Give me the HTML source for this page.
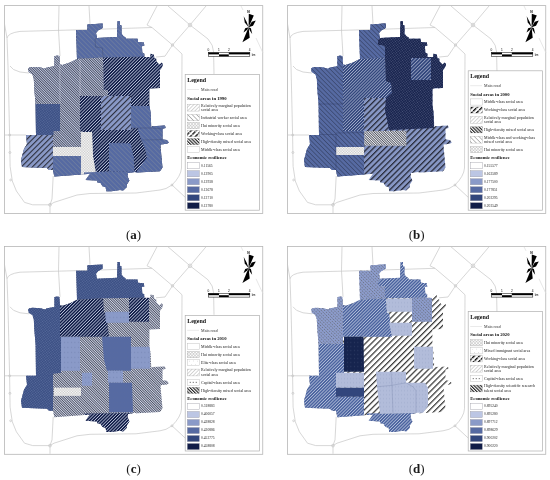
<!DOCTYPE html><html><head><meta charset="utf-8"><title>Figure</title><style>html,body{margin:0;padding:0;background:#fff}svg{display:block;filter:blur(0.35px)}</style></head><body><svg width="550" height="480" viewBox="0 0 550 480"><defs>
<pattern id="pDenseBack" width="1.73" height="4" patternUnits="userSpaceOnUse" patternTransform="rotate(-45)"><rect width="0.74" height="4" fill="#3a3d48"/></pattern>
<pattern id="pLightFwd" width="2.25" height="4" patternUnits="userSpaceOnUse" patternTransform="rotate(45)"><rect width="0.72" height="4" fill="#c0c8de"/></pattern>
<pattern id="pLightFwd2" width="2.16" height="4" patternUnits="userSpaceOnUse" patternTransform="rotate(45)"><rect width="0.7" height="4" fill="#a4aecb"/></pattern>
<pattern id="pLightFwd4" width="2.24" height="4" patternUnits="userSpaceOnUse" patternTransform="rotate(45)"><rect width="0.75" height="4" fill="#b4c0da"/></pattern>
<pattern id="pLightFwd3" width="2.5" height="4" patternUnits="userSpaceOnUse" patternTransform="rotate(45)"><rect width="0.7" height="4" fill="#a8b0cc"/></pattern>
<pattern id="pThickFwd" width="4" height="6" patternUnits="userSpaceOnUse" patternTransform="rotate(45)"><rect width="1.1" height="6" fill="#2e3140"/></pattern>
<pattern id="pThickFwdB" width="4.1" height="6" patternUnits="userSpaceOnUse" patternTransform="rotate(45)"><rect width="1.25" height="6" fill="#252836"/></pattern>
<pattern id="pThickFwdW" width="4.2" height="6" patternUnits="userSpaceOnUse" patternTransform="rotate(45)"><rect width="1.25" height="6" fill="#383838"/></pattern>
<pattern id="pThickFwd2" width="3.9" height="6" patternUnits="userSpaceOnUse" patternTransform="rotate(45)"><rect width="1.1" height="6" fill="#2a2d3a"/></pattern>
<pattern id="pThinBackL" width="3.3" height="4" patternUnits="userSpaceOnUse" patternTransform="rotate(-45)"><rect width="0.6" height="4" fill="#74819e"/></pattern>
<pattern id="pThinBackD" width="3.2" height="4" patternUnits="userSpaceOnUse" patternTransform="rotate(-45)"><rect width="0.5" height="4" fill="#2c3654"/></pattern>
<pattern id="pDashBack" width="2.25" height="2.6" patternUnits="userSpaceOnUse" patternTransform="rotate(-45)"><rect width="0.8" height="1.500" fill="#6c7284"/></pattern>
<pattern id="pDotsL" width="1.5" height="1.5" patternUnits="userSpaceOnUse" patternTransform="rotate(28)"><circle cx="0.6" cy="0.6" r="0.42" fill="#8a9cc4"/></pattern>
<pattern id="pDotsL2" width="1.5" height="1.5" patternUnits="userSpaceOnUse" patternTransform="rotate(28)"><circle cx="0.6" cy="0.6" r="0.36" fill="#aab2cc"/></pattern>
<pattern id="pDotsD" width="3.5" height="5" patternUnits="userSpaceOnUse"><rect x="1" y="1.5" width="0.9" height="0.6" fill="#5a6a98" fill-opacity="0.8"/></pattern>
<pattern id="pDotsD2" width="3" height="4" patternUnits="userSpaceOnUse"><rect x="1" y="1.5" width="1" height="0.8" fill="#9aa6c8" fill-opacity="0.8"/></pattern>
<pattern id="pDotsD3" width="3.5" height="4" patternUnits="userSpaceOnUse"><rect x="1" y="1.5" width="0.8" height="0.6" fill="#5a668a" fill-opacity="0.8"/></pattern>
<pattern id="pHui" width="1.6" height="1.6" patternUnits="userSpaceOnUse"><rect width="0.8" height="0.8" fill="#c6c6c6"/><rect x="0.8" y="0.8" width="0.8" height="0.8" fill="#c6c6c6"/></pattern>
<clipPath id="city"><path d="M87.4,24.4 L102.6,23.6 L102.6,28 L98,30.500 L96,33 L97,38 L117,37 L117.5,21.3 L120,21.3 L120,25 L121.5,25.6 L121.5,33.800 L123.500,36.300 L125.6,37.500 L125.6,38.800 L137.500,38.800 L138.1,41.900 L143.800,42.500 L144.4,45.600 L141.900,46.300 L142.300,52.500 L144.4,53.800 L144.4,56.900 L150,56.900 L150.6,53.800 L153.800,54.4 L154.4,58.1 L156.300,58.800 L156.300,61.300 L159.4,64.4 L161.900,62.500 L163.1,64.4 L161.900,67.500 L160,70 L160,88.1 L149.4,88.700 L149.4,105.6 L150.6,112.500 L151.300,127.500 L152,126.300 L165,125.6 L165.6,128.1 L162.500,128.800 L162.500,139.4 L166.900,140 L168.800,142.500 L166.900,143.800 L160.6,144.4 L160.6,146.900 L162.500,167.500 L160,171.300 L137,172.500 L135,171.900 L128.100,173.100 L127.500,176.300 L129.400,180.600 L126.900,184.400 L126.900,186.900 L123.100,190.600 L120,190 L111.300,191.300 L106.300,191.300 L105.600,186.900 L102.500,186.300 L100.600,183.100 L97.500,182.500 L96.900,180.600 L85.600,180 L90,173.800 L81.300,174.500 L54.300,176.500 L53,170 L49,170 L47,168 L22,167 L21,160 L24,149 L27,144 L26,135 L36,135 L35.6,104 L34.4,90 L33.800,78.800 L32.500,74.4 L28.800,72 L28.1,68.800 L29.4,67.500 L32.500,66.900 L40.6,67.500 L45,68.800 L46.900,67.500 L54.4,66.300 L54.4,56.300 L57.500,55.6 L59.4,56.300 L60,64.4 L62.500,65 L70,62.500 L75,60 L77,59 L76,30 L87.4,30 Z"/></clipPath>

<pattern id="lgThinFwd" width="2.6" height="4" patternUnits="userSpaceOnUse" patternTransform="rotate(45)"><rect width="0.35" height="4" fill="#8a8a8a"/></pattern>
<pattern id="lgThinBack" width="3.2" height="4" patternUnits="userSpaceOnUse" patternTransform="rotate(-45)"><rect width="0.4" height="4" fill="#555"/></pattern>
<pattern id="lgThick" width="3.6" height="5" patternUnits="userSpaceOnUse" patternTransform="rotate(45)"><rect width="1.4" height="4.300" fill="#111"/></pattern>
<pattern id="lgDense" width="2.3" height="4" patternUnits="userSpaceOnUse" patternTransform="rotate(-45)"><rect width="1.15" height="4" fill="#222"/></pattern>
<pattern id="lgDots" width="3" height="2.4" patternUnits="userSpaceOnUse"><circle cx="1" cy="1.2" r="0.3" fill="#999"/></pattern>
<pattern id="lgHui" width="3" height="3.100" patternUnits="userSpaceOnUse"><path d="M0,0 L3,3.100 M3,0 L0,3.100" stroke="#7a7a7a" stroke-width="0.300"/></pattern>
<pattern id="lgPlus" width="3.2" height="6.2" patternUnits="userSpaceOnUse"><path d="M1.2,3.100 h1.200 M1.800,2.500 v1.200" stroke="#444" stroke-width="0.400"/></pattern>
</defs><rect width="550" height="480" fill="#fff"/><g transform="translate(0,0)"><rect x="4.4" y="5.6" width="258.35" height="207.9" fill="none" stroke="#b6b6b6" stroke-width="0.8"/><g fill="none" stroke="#c6c6c6" stroke-width="0.7">
<path d="M7,38 Q8,33 20,31.4 L90,29.5 L152,27.500 L172.500,45 L182,54 L181.5,168 Q181,176 172,185 Q166,189.500 160,190 L136,193 L90,193.500 L77,195 L54,202.400 L50,204.800 L32.700,204.800 L24.500,202.400 L16.400,191 L12.300,181 L10.100,166.400 L9.600,135 L8,66 Z"/>
<path d="M59,6 L58.500,30 L60,56"/>
<path d="M89,6 L90,24"/>
<path d="M4.500,24 L7,38"/>
<path d="M10,66 Q12,70 20,72 L29,73"/>
<path d="M157,6 L147,25 L152,27.500"/>
<path d="M168,6 L190,25 L208,39 Q213.500,45 213.600,52 L214,74"/>
<path d="M206,6 L190,25 L172.500,45 L165,56.200 L156,57"/>
<path d="M172,185 L186,198"/>
<path d="M53.200,176 L52,199 L50,204.800 L50,213"/>
<path d="M5,135 L26,135"/>
<path d="M256,38 L263,53" stroke="#dcdcdc"/>
<path d="M241,6 L243,10" stroke="#dcdcdc"/>
<circle cx="190" cy="25" r="1.8"/><circle cx="9.700" cy="135" r="1"/><circle cx="9.900" cy="152.500" r="1"/><circle cx="10.600" cy="180" r="0.900"/><circle cx="50" cy="204.800" r="1.400"/><circle cx="172.500" cy="45" r="1.200"/><circle cx="172" cy="185" r="1"/>
</g><g clip-path="url(#city)"><rect x="15" y="15" width="160" height="185" fill="#111d48"/><rect x="15" y="15" width="160" height="185" fill="url(#pLightFwd)"/><polygon points="76,20 145,20 144.4,56.500 103,57.500 76.500,58.500" fill="#566aa2" /><polygon points="76,20 145,20 144.4,56.500 103,57.500 76.500,58.500" fill="url(#pThinBackL)"/><polygon points="20,50 77,50 77,59 103,57.500 103.600,90 108,90 108,96 80,96 80,131 82,131 82,147 53,147 53,131 60,131 60,104 20,104" fill="#bcc6e4" /><polygon points="20,50 77,50 77,59 103,57.500 103.600,90 108,90 108,96 80,96 80,131 82,131 82,147 53,147 53,131 60,131 60,104 20,104" fill="url(#pDenseBack)"/><polygon points="20,104 60,104 60,131 53.500,131 53.500,135 20,135" fill="#32467c" /><polygon points="20,104 60,104 60,131 53.500,131 53.500,135 20,135" fill="url(#pDotsL)"/><polygon points="20,135 53,135 53,171 20,171" fill="#8a9ac8" /><polygon points="20,135 53,135 53,171 20,171" fill="url(#pThickFwd2)"/><polygon points="81,132 92,132 93,156 96,174 81,176" fill="#ffffff" /><polygon points="81,132 92,132 93,156 96,174 81,176" fill="url(#pHui)"/><polygon points="53,147 81,147 81,156 53,156" fill="#ffffff" /><polygon points="53,147 81,147 81,156 53,156" fill="url(#pHui)"/><polygon points="53,156 81,156 81,176 53,178" fill="#566aa2" /><polygon points="53,156 81,156 81,176 53,178" fill="url(#pThinBackL)"/><polygon points="101,96 131,96 131,130 101,130" fill="#8a9ac8" /><polygon points="101,96 131,96 131,130 101,130" fill="url(#pThickFwd)"/><polygon points="131,106 151,106 151,128 131,128" fill="#566aa2" /><polygon points="131,106 151,106 151,128 131,128" fill="url(#pThinBackL)"/><polygon points="137.500,128.600 170,124 170,145 160,146 163,167 160,173 136.500,173 136.900,170.800 142,164.500 146.900,157.500 145.600,150 141.300,140" fill="#566aa2" /><polygon points="137.500,128.600 170,124 170,145 160,146 163,167 160,173 136.500,173 136.900,170.800 142,164.500 146.900,157.500 145.600,150 141.300,140" fill="url(#pThinBackL)"/><polygon points="109,143 130.600,143.500 133.750,157.500 134.400,171.500 109,171.500" fill="#566aa2" /><polygon points="109,143 130.600,143.500 133.750,157.500 134.400,171.500 109,171.500" fill="url(#pThinBackL)"/><polygon points="84,172.600 109,171.500 135,171.300 137,172.400 137,195 84,195" fill="#566aa2" /><polygon points="84,172.600 109,171.500 135,171.300 137,172.400 137,195 84,195" fill="url(#pThinBackL)"/><g fill="none" stroke="#3a486e" stroke-width="0.350"><path d="M97,38 L95,39 L95.600,47 L102.400,48 L103,57"/><path d="M131,128 L151,128 L162.500,128.800"/><path d="M141.300,140 L162.500,139.600"/></g><g fill="none" stroke="#d8dcea" stroke-width="0.400"><path d="M59.800,64 L60,104"/><path d="M80,58 L80,96"/></g></g><g fill="#000">
<polygon points="248.6,27.2 248.8,13.8 253.8,15.4"/>
<polygon points="248.6,27.2 242.4,42.2 249.7,37.7"/>
<polygon points="248.6,27.2 244.8,22.6 243.7,16.2 246.7,22"/>
<polygon points="248.6,27.2 251.8,21.8 255.8,20.6 253,25.8"/>
<polygon points="248.6,27.2 245.2,28.2 243.5,32.4 246.9,30"/>
<polygon points="248.6,27.2 250.9,28.2 252.2,34 249.8,30.6"/>
<text x="248.6" y="12.8" font-family="'Liberation Sans',sans-serif" font-weight="bold" font-size="3.4" text-anchor="middle">N</text>
</g><g>
<rect x="208.4" y="52.5" width="41.4" height="3.8" fill="#fff" stroke="#000" stroke-width="0.5"/>
<rect x="208.4" y="52.5" width="10.6" height="1.9" fill="#000"/>
<rect x="219" y="54.4" width="9.8" height="1.9" fill="#000"/>
<rect x="228.8" y="52.5" width="21" height="1.9" fill="#000"/>
<g font-family="'Liberation Sans',sans-serif" font-size="3.2" fill="#000" text-anchor="middle">
<text x="208.4" y="50.8">0</text><text x="219" y="50.8">1</text><text x="228.8" y="50.8">2</text><text x="249.6" y="50.8">4</text>
<text x="253.600" y="55.600" font-size="2.800">km</text></g>
</g><rect x="185.200" y="74.6" width="74.200" height="135.6" fill="#fff" stroke="#b0b0b0" stroke-width="0.700"/><g font-family="'Liberation Serif',serif" fill="#111"><text x="187.200" y="81.9" font-weight="bold" font-size="6">Legend</text><line x1="187.200" y1="89.5" x2="199" y2="89.5" stroke="#d4d4d4" stroke-width="0.500"/><text x="201.100" y="90.8" font-size="4" fill="#333">Main road</text><text x="187.200" y="99.5" font-weight="bold" font-size="4.700">Social areas in 1990</text><rect x="187.300" y="104.3" width="12" height="6.8" fill="#fff" stroke="#b4b4b4" stroke-width="0.400"/><rect x="187.300" y="104.3" width="12" height="6.8" fill="url(#lgThinFwd)"/><text x="201.100" y="106.7" font-size="4" fill="#222">Relatively marginal population</text><text x="201.100" y="111.0" font-size="4" fill="#222">social area</text><rect x="187.300" y="114.5" width="12" height="6.2" fill="#fff" stroke="#b4b4b4" stroke-width="0.400"/><rect x="187.300" y="114.5" width="12" height="6.2" fill="url(#lgThinBack)"/><text x="201.100" y="118.8" font-size="4" fill="#222">Industrial worker social area</text><rect x="187.300" y="122.5" width="12" height="6.2" fill="#fff" stroke="#b4b4b4" stroke-width="0.400"/><rect x="187.300" y="122.5" width="12" height="6.2" fill="url(#lgHui)"/><text x="201.100" y="126.8" font-size="4" fill="#222">Hui minority social area</text><rect x="187.300" y="130.5" width="12" height="6.2" fill="#fff" stroke="#b4b4b4" stroke-width="0.400"/><rect x="187.300" y="130.5" width="12" height="6.2" fill="url(#lgThick)"/><text x="201.100" y="134.8" font-size="4" fill="#222">Working-class social area</text><rect x="187.300" y="138.5" width="12" height="6.2" fill="#fff" stroke="#b4b4b4" stroke-width="0.400"/><rect x="187.300" y="138.5" width="12" height="6.2" fill="url(#lgDense)"/><text x="201.100" y="142.8" font-size="4" fill="#222">High-density mixed social area</text><rect x="187.300" y="146.5" width="12" height="6.2" fill="#fff" stroke="#b4b4b4" stroke-width="0.400"/><text x="201.100" y="150.8" font-size="4" fill="#222">Middle-class social area</text><text x="187.200" y="158.900" font-weight="bold" font-size="4.700">Economic resilience</text><rect x="187.300" y="162.7" width="12" height="6.100" fill="#ffffff" stroke="#9a9aa4" stroke-width="0.400"/><text x="201.100" y="166.6" font-size="3.600" fill="#222">0.11565</text><rect x="187.300" y="170.7" width="12" height="6.100" fill="#bcc6e4" stroke="#9a9aa4" stroke-width="0.400"/><text x="201.100" y="174.6" font-size="3.600" fill="#222">0.12905</text><rect x="187.300" y="178.7" width="12" height="6.100" fill="#8a9ac8" stroke="#9a9aa4" stroke-width="0.400"/><text x="201.100" y="182.6" font-size="3.600" fill="#222">0.12938</text><rect x="187.300" y="186.7" width="12" height="6.100" fill="#566aa2" stroke="#9a9aa4" stroke-width="0.400"/><text x="201.100" y="190.6" font-size="3.600" fill="#222">0.13678</text><rect x="187.300" y="194.7" width="12" height="6.100" fill="#32467c" stroke="#9a9aa4" stroke-width="0.400"/><text x="201.100" y="198.6" font-size="3.600" fill="#222">0.13710</text><rect x="187.300" y="202.7" width="12" height="6.100" fill="#111d48" stroke="#9a9aa4" stroke-width="0.400"/><text x="201.100" y="206.6" font-size="3.600" fill="#222">0.13780</text></g></g><g transform="translate(283,0)"><rect x="4.4" y="5.6" width="258.35" height="207.9" fill="none" stroke="#b6b6b6" stroke-width="0.8"/><g fill="none" stroke="#c6c6c6" stroke-width="0.7">
<path d="M7,38 Q8,33 20,31.4 L90,29.5 L152,27.500 L172.500,45 L182,54 L181.5,168 Q181,176 172,185 Q166,189.500 160,190 L136,193 L90,193.500 L77,195 L54,202.400 L50,204.800 L32.700,204.800 L24.500,202.400 L16.400,191 L12.300,181 L10.100,166.400 L9.600,135 L8,66 Z"/>
<path d="M59,6 L58.500,30 L60,56"/>
<path d="M89,6 L90,24"/>
<path d="M4.500,24 L7,38"/>
<path d="M10,66 Q12,70 20,72 L29,73"/>
<path d="M157,6 L147,25 L152,27.500"/>
<path d="M168,6 L190,25 L208,39 Q213.500,45 213.600,52 L214,74"/>
<path d="M206,6 L190,25 L172.500,45 L165,56.200 L156,57"/>
<path d="M172,185 L186,198"/>
<path d="M53.200,176 L52,199 L50,204.800 L50,213"/>
<path d="M5,135 L26,135"/>
<path d="M256,38 L263,53" stroke="#dcdcdc"/>
<path d="M241,6 L243,10" stroke="#dcdcdc"/>
<circle cx="190" cy="25" r="1.8"/><circle cx="9.700" cy="135" r="1"/><circle cx="9.900" cy="152.500" r="1"/><circle cx="10.600" cy="180" r="0.900"/><circle cx="50" cy="204.800" r="1.400"/><circle cx="172.500" cy="45" r="1.200"/><circle cx="172" cy="185" r="1"/>
</g><g clip-path="url(#city)"><rect x="15" y="15" width="160" height="185" fill="#8696c4"/><rect x="15" y="15" width="160" height="185" fill="url(#pThickFwdB)"/><polygon points="60,50 77,59 102,57.500 103,81 108,83 109,93 103,98 81,98 81,131 60,131" fill="#32467c" /><polygon points="60,50 77,59 102,57.500 103,81 108,83 109,93 103,98 81,98 81,131 60,131" fill="url(#pLightFwd2)"/><polygon points="95,20 165,20 165,88 150,88 151,128 106,130 102,110 103,98 109,93 108,83 103,81 102,57 102,46 95,45 95,40 97,38" fill="#111d48" /><polygon points="95,20 165,20 165,88 150,88 151,128 106,130 102,110 103,98 109,93 108,83 103,81 102,57 102,46 95,45 95,40 97,38" fill="url(#pDotsL2)"/><polygon points="76,20 103,20 103,28 97,33 98,37 95,40 95,45 102,46 102,57.500 76,59" fill="#566aa2" /><polygon points="76,20 103,20 103,28 97,33 98,37 95,40 95,45 102,46 102,57.500 76,59" fill="url(#pThinBackD)"/><polygon points="20,50 60,50 60,131 81,131 81,178 20,178" fill="#566aa2" /><polygon points="20,50 60,50 60,131 81,131 81,178 20,178" fill="url(#pThinBackD)"/><polygon points="128,58 148,58 148,80 128,80" fill="#32467c" /><polygon points="128,58 148,58 148,80 128,80" fill="url(#pLightFwd3)"/><polygon points="81.400,131.200 123.200,130.800 123.200,145.800 81.400,145.400" fill="#eceef4" /><polygon points="81.400,131.200 123.200,130.800 123.200,145.800 81.400,145.400" fill="url(#pDenseBack)"/><polygon points="53,147 81,147 81,155 53,155" fill="#ffffff" /><polygon points="53,147 81,147 81,155 53,155" fill="url(#pHui)"/><g fill="none" stroke="#2c3860" stroke-width="0.350"><path d="M26,134.500 L53,134.500 L53,177"/><path d="M53,133 L81,132.500"/><path d="M36,104 L60,104"/></g></g><g fill="#000">
<polygon points="248.6,27.2 248.8,13.8 253.8,15.4"/>
<polygon points="248.6,27.2 242.4,42.2 249.7,37.7"/>
<polygon points="248.6,27.2 244.8,22.6 243.7,16.2 246.7,22"/>
<polygon points="248.6,27.2 251.8,21.8 255.8,20.6 253,25.8"/>
<polygon points="248.6,27.2 245.2,28.2 243.5,32.4 246.9,30"/>
<polygon points="248.6,27.2 250.9,28.2 252.2,34 249.8,30.6"/>
<text x="248.6" y="12.8" font-family="'Liberation Sans',sans-serif" font-weight="bold" font-size="3.4" text-anchor="middle">N</text>
</g><g>
<rect x="208.4" y="52.5" width="41.4" height="3.8" fill="#fff" stroke="#000" stroke-width="0.5"/>
<rect x="208.4" y="52.5" width="10.6" height="1.9" fill="#000"/>
<rect x="219" y="54.4" width="9.8" height="1.9" fill="#000"/>
<rect x="228.8" y="52.5" width="21" height="1.9" fill="#000"/>
<g font-family="'Liberation Sans',sans-serif" font-size="3.2" fill="#000" text-anchor="middle">
<text x="208.4" y="50.8">0</text><text x="219" y="50.8">1</text><text x="228.8" y="50.8">2</text><text x="249.6" y="50.8">4</text>
<text x="253.600" y="55.600" font-size="2.800">km</text></g>
</g><rect x="185.200" y="70.8" width="74.200" height="139.4" fill="#fff" stroke="#b0b0b0" stroke-width="0.700"/><g font-family="'Liberation Serif',serif" fill="#111"><text x="187.200" y="78.1" font-weight="bold" font-size="6">Legend</text><line x1="187.200" y1="85.7" x2="199" y2="85.7" stroke="#d4d4d4" stroke-width="0.500"/><text x="201.100" y="87.0" font-size="4" fill="#333">Main road</text><text x="187.200" y="95.7" font-weight="bold" font-size="4.700">Social areas in 2000</text><rect x="187.300" y="98.9" width="12" height="6.2" fill="#fff" stroke="#b4b4b4" stroke-width="0.400"/><text x="201.100" y="103.2" font-size="4" fill="#222">Middle-class social area</text><rect x="187.300" y="106.9" width="12" height="6.2" fill="#fff" stroke="#b4b4b4" stroke-width="0.400"/><rect x="187.300" y="106.9" width="12" height="6.2" fill="url(#lgThick)"/><text x="201.100" y="111.2" font-size="4" fill="#222">Working-class social area</text><rect x="187.300" y="116.5" width="12" height="6.8" fill="#fff" stroke="#b4b4b4" stroke-width="0.400"/><rect x="187.300" y="116.5" width="12" height="6.8" fill="url(#lgThinFwd)"/><text x="201.100" y="118.9" font-size="4" fill="#222">Relatively marginal population</text><text x="201.100" y="123.2" font-size="4" fill="#222">social area</text><rect x="187.300" y="126.7" width="12" height="6.2" fill="#fff" stroke="#b4b4b4" stroke-width="0.400"/><rect x="187.300" y="126.7" width="12" height="6.2" fill="url(#lgDense)"/><text x="201.100" y="131.0" font-size="4" fill="#222">High-density mixed social area</text><rect x="187.300" y="136.3" width="12" height="6.8" fill="#fff" stroke="#b4b4b4" stroke-width="0.400"/><rect x="187.300" y="136.3" width="12" height="6.8" fill="url(#lgThinBack)"/><text x="201.100" y="138.7" font-size="4" fill="#222">Middle-class and working-class</text><text x="201.100" y="143.0" font-size="4" fill="#222">mixed social area</text><rect x="187.300" y="146.5" width="12" height="6.2" fill="#fff" stroke="#b4b4b4" stroke-width="0.400"/><rect x="187.300" y="146.5" width="12" height="6.2" fill="url(#lgHui)"/><text x="201.100" y="150.8" font-size="4" fill="#222">Hui minority social area</text><text x="187.200" y="158.900" font-weight="bold" font-size="4.700">Economic resilience</text><rect x="187.300" y="162.7" width="12" height="6.100" fill="#ffffff" stroke="#9a9aa4" stroke-width="0.400"/><text x="201.100" y="166.6" font-size="3.600" fill="#222">0.155577</text><rect x="187.300" y="170.7" width="12" height="6.100" fill="#bcc6e4" stroke="#9a9aa4" stroke-width="0.400"/><text x="201.100" y="174.6" font-size="3.600" fill="#222">0.163589</text><rect x="187.300" y="178.7" width="12" height="6.100" fill="#8a9ac8" stroke="#9a9aa4" stroke-width="0.400"/><text x="201.100" y="182.6" font-size="3.600" fill="#222">0.177500</text><rect x="187.300" y="186.7" width="12" height="6.100" fill="#566aa2" stroke="#9a9aa4" stroke-width="0.400"/><text x="201.100" y="190.6" font-size="3.600" fill="#222">0.177851</text><rect x="187.300" y="194.7" width="12" height="6.100" fill="#32467c" stroke="#9a9aa4" stroke-width="0.400"/><text x="201.100" y="198.6" font-size="3.600" fill="#222">0.202295</text><rect x="187.300" y="202.7" width="12" height="6.100" fill="#111d48" stroke="#9a9aa4" stroke-width="0.400"/><text x="201.100" y="206.6" font-size="3.600" fill="#222">0.203549</text></g></g><g transform="translate(0,240.8)"><rect x="4.4" y="5.6" width="258.35" height="207.9" fill="none" stroke="#b6b6b6" stroke-width="0.8"/><g fill="none" stroke="#c6c6c6" stroke-width="0.7">
<path d="M7,38 Q8,33 20,31.4 L90,29.5 L152,27.500 L172.500,45 L182,54 L181.5,168 Q181,176 172,185 Q166,189.500 160,190 L136,193 L90,193.500 L77,195 L54,202.400 L50,204.800 L32.700,204.800 L24.500,202.400 L16.400,191 L12.300,181 L10.100,166.400 L9.600,135 L8,66 Z"/>
<path d="M59,6 L58.500,30 L60,56"/>
<path d="M89,6 L90,24"/>
<path d="M4.500,24 L7,38"/>
<path d="M10,66 Q12,70 20,72 L29,73"/>
<path d="M157,6 L147,25 L152,27.500"/>
<path d="M168,6 L190,25 L208,39 Q213.500,45 213.600,52 L214,74"/>
<path d="M206,6 L190,25 L172.500,45 L165,56.200 L156,57"/>
<path d="M172,185 L186,198"/>
<path d="M53.200,176 L52,199 L50,204.800 L50,213"/>
<path d="M5,135 L26,135"/>
<path d="M256,38 L263,53" stroke="#dcdcdc"/>
<path d="M241,6 L243,10" stroke="#dcdcdc"/>
<circle cx="190" cy="25" r="1.8"/><circle cx="9.700" cy="135" r="1"/><circle cx="9.900" cy="152.500" r="1"/><circle cx="10.600" cy="180" r="0.900"/><circle cx="50" cy="204.800" r="1.400"/><circle cx="172.500" cy="45" r="1.200"/><circle cx="172" cy="185" r="1"/>
</g><g clip-path="url(#city)"><rect x="15" y="15" width="160" height="185" fill="#cdd4ea"/><rect x="15" y="15" width="160" height="185" fill="url(#pDenseBack)"/><polygon points="76,20 145,20 144.400,57 103,57.500 76.500,59" fill="#32467c" /><polygon points="76,20 145,20 144.400,57 103,57.500 76.500,59" fill="url(#pDotsL)"/><polygon points="20,50 60,50 60,96 61,96 61,132 53,133 53,136 20,136" fill="#32467c" /><polygon points="20,50 60,50 60,96 61,96 61,132 53,133 53,136 20,136" fill="url(#pDotsL)"/><polygon points="20,135 53,135 53,171 20,171" fill="#32467c" /><polygon points="20,135 53,135 53,171 20,171" fill="url(#pDotsL)"/><polygon points="60,50 77,59 103,57.500 104,72 106,72 109,96 60,96" fill="#111d48" /><polygon points="60,50 77,59 103,57.500 104,72 106,72 109,96 60,96" fill="url(#pLightFwd)"/><polygon points="105,71 129,71 129,82 106,82" fill="#8a9ac8" /><polygon points="105,71 129,71 129,82 106,82" fill="url(#pDotsD)"/><polygon points="129,57 149,57 149,81 129,81" fill="#111d48" /><polygon points="129,57 149,57 149,81 129,81" fill="url(#pLightFwd)"/><polygon points="61,96 80,96 80,130 61,130" fill="#8a9ac8" /><polygon points="61,96 80,96 80,130 61,130" fill="url(#pDotsD)"/><polygon points="102,96 131,96 131,130 107,130 104,119" fill="#566aa2" /><polygon points="102,96 131,96 131,130 107,130 104,119" fill="url(#pDotsD)"/><polygon points="131,106 150,106 150,128 131,128" fill="#8a9ac8" /><polygon points="131,106 150,106 150,128 131,128" fill="url(#pDotsD)"/><polygon points="82,132 92,132 92,145 82,145" fill="#8a9ac8" /><polygon points="82,132 92,132 92,145 82,145" fill="url(#pDotsD)"/><polygon points="54,147 81,147 81,155 54,155" fill="#ffffff" /><polygon points="54,147 81,147 81,155 54,155" fill="url(#pHui)"/><polygon points="108,130 123,130 123,142 108,142" fill="#8a9ac8" /><polygon points="108,130 123,130 123,142 108,142" fill="url(#pDotsD)"/><polygon points="109,142 132,142 133,171.500 109,171.500" fill="#566aa2" /><polygon points="109,142 132,142 133,171.500 109,171.500" fill="url(#pDotsD)"/><polygon points="84,172.800 137,172.200 137,195 84,195" fill="#111d48" /><polygon points="84,172.800 137,172.200 137,195 84,195" fill="url(#pLightFwd)"/></g><g fill="#000">
<polygon points="248.6,27.2 248.8,13.8 253.8,15.4"/>
<polygon points="248.6,27.2 242.4,42.2 249.7,37.7"/>
<polygon points="248.6,27.2 244.8,22.6 243.7,16.2 246.7,22"/>
<polygon points="248.6,27.2 251.8,21.8 255.8,20.6 253,25.8"/>
<polygon points="248.6,27.2 245.2,28.2 243.5,32.4 246.9,30"/>
<polygon points="248.6,27.2 250.9,28.2 252.2,34 249.8,30.6"/>
<text x="248.6" y="12.8" font-family="'Liberation Sans',sans-serif" font-weight="bold" font-size="3.4" text-anchor="middle">N</text>
</g><g>
<rect x="208.4" y="52.5" width="41.4" height="3.8" fill="#fff" stroke="#000" stroke-width="0.5"/>
<rect x="208.4" y="52.5" width="10.6" height="1.9" fill="#000"/>
<rect x="219" y="54.4" width="9.8" height="1.9" fill="#000"/>
<rect x="228.8" y="52.5" width="21" height="1.9" fill="#000"/>
<g font-family="'Liberation Sans',sans-serif" font-size="3.2" fill="#000" text-anchor="middle">
<text x="208.4" y="50.8">0</text><text x="219" y="50.8">1</text><text x="228.8" y="50.8">2</text><text x="249.6" y="50.8">4</text>
<text x="253.600" y="55.600" font-size="2.800">km</text></g>
</g><rect x="185.200" y="74.6" width="74.200" height="135.6" fill="#fff" stroke="#b0b0b0" stroke-width="0.700"/><g font-family="'Liberation Serif',serif" fill="#111"><text x="187.200" y="81.9" font-weight="bold" font-size="6">Legend</text><line x1="187.200" y1="89.5" x2="199" y2="89.5" stroke="#d4d4d4" stroke-width="0.500"/><text x="201.100" y="90.8" font-size="4" fill="#333">Main road</text><text x="187.200" y="99.5" font-weight="bold" font-size="4.700">Social areas in 2010</text><rect x="187.300" y="102.7" width="12" height="6.2" fill="#fff" stroke="#b4b4b4" stroke-width="0.400"/><text x="201.100" y="107.0" font-size="4" fill="#222">Middle-class social area</text><rect x="187.300" y="110.7" width="12" height="6.2" fill="#fff" stroke="#b4b4b4" stroke-width="0.400"/><rect x="187.300" y="110.7" width="12" height="6.2" fill="url(#lgHui)"/><text x="201.100" y="115.0" font-size="4" fill="#222">Hui minority social area</text><rect x="187.300" y="118.7" width="12" height="6.2" fill="#fff" stroke="#b4b4b4" stroke-width="0.400"/><circle cx="189.3" cy="120.3" r="0.300" fill="#9a9a9a"/><circle cx="193.3" cy="120.1" r="0.300" fill="#9a9a9a"/><circle cx="197.3" cy="120.3" r="0.300" fill="#9a9a9a"/><circle cx="191.3" cy="123.4" r="0.300" fill="#9a9a9a"/><circle cx="195.3" cy="123.4" r="0.300" fill="#9a9a9a"/><text x="201.100" y="123.0" font-size="4" fill="#222">Elite-class social area</text><rect x="187.300" y="128.3" width="12" height="6.8" fill="#fff" stroke="#b4b4b4" stroke-width="0.400"/><rect x="187.300" y="128.3" width="12" height="6.8" fill="url(#lgThinFwd)"/><text x="201.100" y="130.7" font-size="4" fill="#222">Relatively marginal population</text><text x="201.100" y="135.0" font-size="4" fill="#222">social area</text><rect x="187.300" y="138.5" width="12" height="6.2" fill="#fff" stroke="#b4b4b4" stroke-width="0.400"/><path d="M189.7,141.6 h1.200 M190.3,141.0 v1.200" stroke="#333" stroke-width="0.400" fill="none"/><path d="M192.7,141.6 h1.200 M193.3,141.0 v1.200" stroke="#333" stroke-width="0.400" fill="none"/><path d="M195.7,141.6 h1.200 M196.3,141.0 v1.200" stroke="#333" stroke-width="0.400" fill="none"/><text x="201.100" y="142.8" font-size="4" fill="#222">Capital-class social area</text><rect x="187.300" y="146.5" width="12" height="6.2" fill="#fff" stroke="#b4b4b4" stroke-width="0.400"/><rect x="187.300" y="146.5" width="12" height="6.2" fill="url(#lgDense)"/><text x="201.100" y="150.8" font-size="4" fill="#222">High-density mixed social area</text><text x="187.200" y="158.900" font-weight="bold" font-size="4.700">Economic resilience</text><rect x="187.300" y="162.7" width="12" height="6.100" fill="#ffffff" stroke="#9a9aa4" stroke-width="0.400"/><text x="201.100" y="166.6" font-size="3.600" fill="#222">0.318883</text><rect x="187.300" y="170.7" width="12" height="6.100" fill="#bcc6e4" stroke="#9a9aa4" stroke-width="0.400"/><text x="201.100" y="174.6" font-size="3.600" fill="#222">0.406057</text><rect x="187.300" y="178.7" width="12" height="6.100" fill="#8a9ac8" stroke="#9a9aa4" stroke-width="0.400"/><text x="201.100" y="182.6" font-size="3.600" fill="#222">0.428828</text><rect x="187.300" y="186.7" width="12" height="6.100" fill="#566aa2" stroke="#9a9aa4" stroke-width="0.400"/><text x="201.100" y="190.6" font-size="3.600" fill="#222">0.430886</text><rect x="187.300" y="194.7" width="12" height="6.100" fill="#32467c" stroke="#9a9aa4" stroke-width="0.400"/><text x="201.100" y="198.6" font-size="3.600" fill="#222">0.453775</text><rect x="187.300" y="202.7" width="12" height="6.100" fill="#111d48" stroke="#9a9aa4" stroke-width="0.400"/><text x="201.100" y="206.6" font-size="3.600" fill="#222">0.458808</text></g></g><g transform="translate(283,240.8)"><rect x="4.4" y="5.6" width="258.35" height="207.9" fill="none" stroke="#b6b6b6" stroke-width="0.8"/><g fill="none" stroke="#c6c6c6" stroke-width="0.7">
<path d="M7,38 Q8,33 20,31.4 L90,29.5 L152,27.500 L172.500,45 L182,54 L181.5,168 Q181,176 172,185 Q166,189.500 160,190 L136,193 L90,193.500 L77,195 L54,202.400 L50,204.800 L32.700,204.800 L24.500,202.400 L16.400,191 L12.300,181 L10.100,166.400 L9.600,135 L8,66 Z"/>
<path d="M59,6 L58.500,30 L60,56"/>
<path d="M89,6 L90,24"/>
<path d="M4.500,24 L7,38"/>
<path d="M10,66 Q12,70 20,72 L29,73"/>
<path d="M157,6 L147,25 L152,27.500"/>
<path d="M168,6 L190,25 L208,39 Q213.500,45 213.600,52 L214,74"/>
<path d="M206,6 L190,25 L172.500,45 L165,56.200 L156,57"/>
<path d="M172,185 L186,198"/>
<path d="M53.200,176 L52,199 L50,204.800 L50,213"/>
<path d="M5,135 L26,135"/>
<path d="M256,38 L263,53" stroke="#dcdcdc"/>
<path d="M241,6 L243,10" stroke="#dcdcdc"/>
<circle cx="190" cy="25" r="1.8"/><circle cx="9.700" cy="135" r="1"/><circle cx="9.900" cy="152.500" r="1"/><circle cx="10.600" cy="180" r="0.900"/><circle cx="50" cy="204.800" r="1.400"/><circle cx="172.500" cy="45" r="1.200"/><circle cx="172" cy="185" r="1"/>
</g><g clip-path="url(#city)"><rect x="15" y="15" width="160" height="185" fill="#ffffff"/><rect x="15" y="15" width="160" height="185" fill="url(#pThickFwdW)"/><polygon points="95,20 145,20 144.400,57 102,57.500 102,46 95,45 95,40 97,38" fill="#4c64a0" /><polygon points="95,20 145,20 144.400,57 102,57.500 102,46 95,45 95,40 97,38" fill="url(#pLightFwd4)"/><polygon points="76,20 103,20 103,28 97,33 98,37 95,40 95,45 102,46 102,57.500 76,59" fill="#8c9ccc" /><polygon points="76,20 103,20 103,28 97,33 98,37 95,40 95,45 102,46 102,57.500 76,59" fill="url(#pDashBack)"/><polygon points="20,50 60,50 60,103 20,103" fill="#8c9ccc" /><polygon points="20,50 60,50 60,103 20,103" fill="url(#pDashBack)"/><polygon points="60,50 77,59 103,57.500 104,72 106,72 109,96 60,96" fill="#4c64a0" /><polygon points="60,50 77,59 103,57.500 104,72 106,72 109,96 60,96" fill="url(#pLightFwd4)"/><polygon points="20,103 61,103 61,132 53,133 53,136 20,136" fill="#4c64a0" /><polygon points="20,103 61,103 61,132 53,133 53,136 20,136" fill="url(#pLightFwd4)"/><polygon points="20,135 53,135 53,171 20,171" fill="#4c64a0" /><polygon points="20,135 53,135 53,171 20,171" fill="url(#pLightFwd4)"/><polygon points="53,156 81,156 81,176 53,178" fill="#4c64a0" /><polygon points="53,156 81,156 81,176 53,178" fill="url(#pLightFwd4)"/><polygon points="84,172.800 137,172.200 137,195 84,195" fill="#4c64a0" /><polygon points="84,172.800 137,172.200 137,195 84,195" fill="url(#pLightFwd4)"/><polygon points="61,96 80.500,96 81,131 61,131" fill="#16244e" /><polygon points="61,96 80.500,96 81,131 61,131" fill="url(#pDotsD3)"/><polygon points="103,58 129,57.500 129,71 104,71" fill="#b2bcda" /><polygon points="103,58 129,57.500 129,71 104,71" fill="url(#pDotsD2)"/><polygon points="106,82 129,82 129,95 109,95" fill="#b2bcda" /><polygon points="106,82 129,82 129,95 109,95" fill="url(#pDotsD2)"/><polygon points="131,106 150,106 150,128 131,128" fill="#b2bcda" /><polygon points="131,106 150,106 150,128 131,128" fill="url(#pDotsD2)"/><polygon points="53,132 81,132 81,147 53,147" fill="#b2bcda" /><polygon points="53,132 81,132 81,147 53,147" fill="url(#pDotsD2)"/><polygon points="93,131 123,131 123,142 142,142 145,147 145,165 140,172 97,173 94,145" fill="#b2bcda" /><polygon points="93,131 123,131 123,142 142,142 145,147 145,165 140,172 97,173 94,145" fill="url(#pDotsD2)"/><polygon points="129,57 149,57 149,81 129,81" fill="#8c9ccc" /><polygon points="129,57 149,57 149,81 129,81" fill="url(#pDashBack)"/><polygon points="53,147 81,147 81,156 53,156" fill="#32467c" /><g fill="none" stroke="#6f7da4" stroke-width="0.300"><path d="M79,59 L79,96"/><path d="M108,131 L109,145 L110,172 M94,146 L109,144.500 L123,142 M123,142 L130,146 L133,150 L133,172"/></g></g><g fill="#000">
<polygon points="248.6,27.2 248.8,13.8 253.8,15.4"/>
<polygon points="248.6,27.2 242.4,42.2 249.7,37.7"/>
<polygon points="248.6,27.2 244.8,22.6 243.7,16.2 246.7,22"/>
<polygon points="248.6,27.2 251.8,21.8 255.8,20.6 253,25.8"/>
<polygon points="248.6,27.2 245.2,28.2 243.5,32.4 246.9,30"/>
<polygon points="248.6,27.2 250.9,28.2 252.2,34 249.8,30.6"/>
<text x="248.6" y="12.8" font-family="'Liberation Sans',sans-serif" font-weight="bold" font-size="3.4" text-anchor="middle">N</text>
</g><g>
<rect x="208.4" y="52.5" width="41.4" height="3.8" fill="#fff" stroke="#000" stroke-width="0.5"/>
<rect x="208.4" y="52.5" width="10.6" height="1.9" fill="#000"/>
<rect x="219" y="54.4" width="9.8" height="1.9" fill="#000"/>
<rect x="228.8" y="52.5" width="21" height="1.9" fill="#000"/>
<g font-family="'Liberation Sans',sans-serif" font-size="3.2" fill="#000" text-anchor="middle">
<text x="208.4" y="50.8">0</text><text x="219" y="50.8">1</text><text x="228.8" y="50.8">2</text><text x="249.6" y="50.8">4</text>
<text x="253.600" y="55.600" font-size="2.800">km</text></g>
</g><rect x="185.200" y="70.8" width="74.200" height="139.4" fill="#fff" stroke="#b0b0b0" stroke-width="0.700"/><g font-family="'Liberation Serif',serif" fill="#111"><text x="187.200" y="78.1" font-weight="bold" font-size="6">Legend</text><line x1="187.200" y1="85.7" x2="199" y2="85.7" stroke="#d4d4d4" stroke-width="0.500"/><text x="201.100" y="87.0" font-size="4" fill="#333">Main road</text><text x="187.200" y="95.7" font-weight="bold" font-size="4.700">Social areas in 2020</text><rect x="187.300" y="98.9" width="12" height="6.2" fill="#fff" stroke="#b4b4b4" stroke-width="0.400"/><rect x="187.300" y="98.9" width="12" height="6.2" fill="url(#lgHui)"/><text x="201.100" y="103.2" font-size="4" fill="#222">Hui minority social area</text><rect x="187.300" y="106.9" width="12" height="6.2" fill="#fff" stroke="#b4b4b4" stroke-width="0.400"/><circle cx="189.3" cy="108.5" r="0.300" fill="#9a9a9a"/><circle cx="193.3" cy="108.3" r="0.300" fill="#9a9a9a"/><circle cx="197.3" cy="108.5" r="0.300" fill="#9a9a9a"/><circle cx="191.3" cy="111.6" r="0.300" fill="#9a9a9a"/><circle cx="195.3" cy="111.6" r="0.300" fill="#9a9a9a"/><text x="201.100" y="111.2" font-size="4" fill="#222">Mixed immigrant social area</text><rect x="187.300" y="114.9" width="12" height="6.2" fill="#fff" stroke="#b4b4b4" stroke-width="0.400"/><rect x="187.300" y="114.9" width="12" height="6.2" fill="url(#lgThick)"/><text x="201.100" y="119.2" font-size="4" fill="#222">Working-class social area</text><rect x="187.300" y="124.5" width="12" height="6.8" fill="#fff" stroke="#b4b4b4" stroke-width="0.400"/><rect x="187.300" y="124.5" width="12" height="6.8" fill="url(#lgThinFwd)"/><text x="201.100" y="126.9" font-size="4" fill="#222">Relatively marginal population</text><text x="201.100" y="131.2" font-size="4" fill="#222">social area</text><rect x="187.300" y="134.7" width="12" height="6.2" fill="#fff" stroke="#b4b4b4" stroke-width="0.400"/><path d="M189.7,137.8 h1.200 M190.3,137.2 v1.200" stroke="#333" stroke-width="0.400" fill="none"/><path d="M192.7,137.8 h1.200 M193.3,137.2 v1.200" stroke="#333" stroke-width="0.400" fill="none"/><path d="M195.7,137.8 h1.200 M196.3,137.2 v1.200" stroke="#333" stroke-width="0.400" fill="none"/><text x="201.100" y="139.0" font-size="4" fill="#222">Capital-class social area</text><rect x="187.300" y="144.3" width="12" height="6.8" fill="#fff" stroke="#b4b4b4" stroke-width="0.400"/><rect x="187.300" y="144.3" width="12" height="6.8" fill="url(#lgDense)"/><text x="201.100" y="146.7" font-size="4" fill="#222">High-density scientific research</text><text x="201.100" y="151.0" font-size="4" fill="#222">talent social area</text><text x="187.200" y="158.900" font-weight="bold" font-size="4.700">Economic resilience</text><rect x="187.300" y="162.7" width="12" height="6.100" fill="#ffffff" stroke="#9a9aa4" stroke-width="0.400"/><text x="201.100" y="166.6" font-size="3.600" fill="#222">0.895240</text><rect x="187.300" y="170.7" width="12" height="6.100" fill="#bcc6e4" stroke="#9a9aa4" stroke-width="0.400"/><text x="201.100" y="174.6" font-size="3.600" fill="#222">0.895280</text><rect x="187.300" y="178.7" width="12" height="6.100" fill="#8a9ac8" stroke="#9a9aa4" stroke-width="0.400"/><text x="201.100" y="182.6" font-size="3.600" fill="#222">0.897712</text><rect x="187.300" y="186.7" width="12" height="6.100" fill="#566aa2" stroke="#9a9aa4" stroke-width="0.400"/><text x="201.100" y="190.6" font-size="3.600" fill="#222">0.898629</text><rect x="187.300" y="194.7" width="12" height="6.100" fill="#32467c" stroke="#9a9aa4" stroke-width="0.400"/><text x="201.100" y="198.6" font-size="3.600" fill="#222">0.900202</text><rect x="187.300" y="202.7" width="12" height="6.100" fill="#111d48" stroke="#9a9aa4" stroke-width="0.400"/><text x="201.100" y="206.6" font-size="3.600" fill="#222">0.900220</text></g></g><g font-family="'Liberation Serif',serif" font-size="13" fill="#1a1a1a" text-anchor="middle">
<text x="133.600" y="239.100">(<tspan font-weight="bold">a</tspan>)</text>
<text x="416.600" y="239.100">(<tspan font-weight="bold">b</tspan>)</text>
<text x="133.600" y="473">(<tspan font-weight="bold">c</tspan>)</text>
<text x="416.600" y="473">(<tspan font-weight="bold">d</tspan>)</text>
</g></svg></body></html>
